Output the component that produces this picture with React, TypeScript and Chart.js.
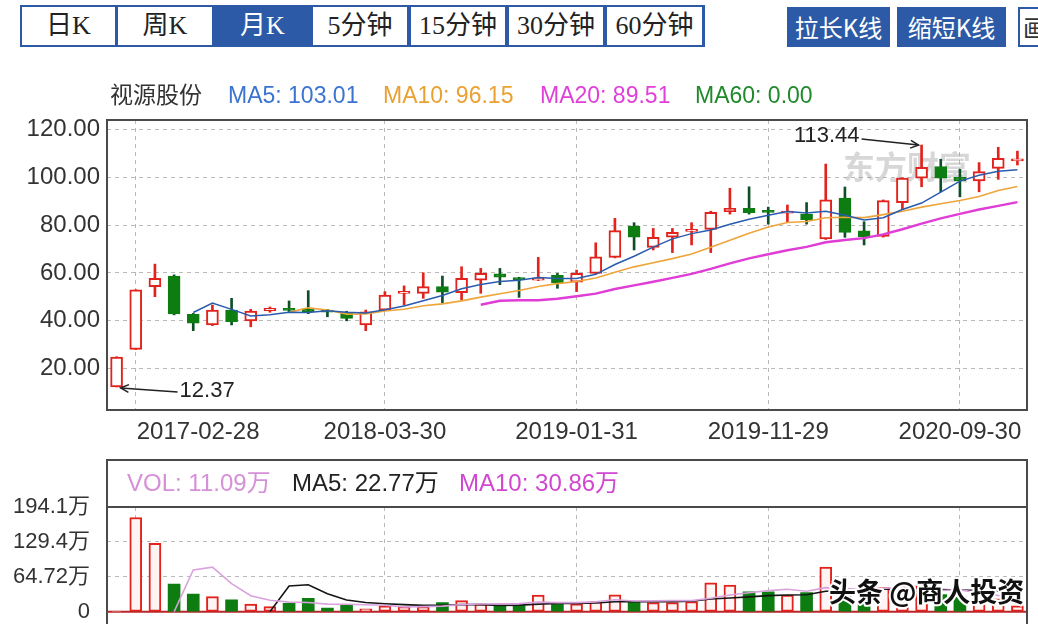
import React, { useEffect, useRef } from 'react';
import { Chart, registerables } from 'chart.js';

Chart.register(...registerables);

// ---------------- data ----------------
const categories = [
  '2017-01', '2017-02', '2017-03', '2017-04', '2017-05', '2017-06', '2017-07', '2017-08', '2017-09', '2017-10', '2017-11', '2017-12',
  '2018-01', '2018-02', '2018-03', '2018-04', '2018-05', '2018-06', '2018-07', '2018-08', '2018-09', '2018-10', '2018-11', '2018-12',
  '2019-01', '2019-02', '2019-03', '2019-04', '2019-05', '2019-06', '2019-07', '2019-08', '2019-09', '2019-10', '2019-11', '2019-12',
  '2020-01', '2020-02', '2020-03', '2020-04', '2020-05', '2020-06', '2020-07', '2020-08', '2020-09', '2020-10', '2020-11', '2020-12',
];

const tickLabels = ['2017-02-28', '2018-03-30', '2019-01-31', '2019-11-29', '2020-09-30'];

const opens = [
  12.37, 28.1, 54.3, 58.7, 42.7, 38.3, 44.5, 40.0, 44.1, 44.8, 45.0, 44.5,
  43.4, 38.3, 44.5, 51.5, 51.5, 54.3, 51.8, 57.0, 59.6, 57.8, 57.0, 59.0,
  56.1, 59.8, 66.5, 79.6, 70.7, 74.9, 77.4, 78.2, 85.6, 87.0, 85.7, 85.0,
  84.6, 74.2, 91.3, 77.6, 75.3, 89.4, 99.6, 104.4, 100.0, 98.5, 103.7, 106.8,
];
const highs = [
  25.0, 53.0, 63.7, 59.2, 43.1, 46.6, 49.4, 44.8, 45.8, 48.3, 52.6, 44.8,
  44.0, 44.5, 52.2, 54.6, 60.1, 58.7, 62.6, 61.9, 61.9, 58.2, 66.5, 59.8,
  61.2, 72.6, 82.8, 81.0, 78.6, 78.6, 81.0, 85.8, 95.4, 96.0, 87.5, 88.4,
  89.4, 105.5, 95.9, 81.4, 90.5, 99.8, 113.44, 107.5, 103.3, 106.1, 112.5, 110.9,
];
const lows = [
  12.37, 28.0, 50.1, 42.5, 35.9, 38.0, 38.3, 37.5, 43.6, 43.7, 43.0, 41.7,
  40.0, 35.9, 44.3, 46.6, 49.4, 47.5, 48.7, 51.5, 55.1, 49.8, 56.8, 53.6,
  52.2, 59.5, 66.3, 69.6, 69.6, 68.5, 71.7, 68.5, 84.6, 84.6, 80.4, 81.4,
  80.4, 74.0, 74.9, 71.7, 75.0, 86.6, 96.0, 93.9, 91.8, 93.9, 99.1, 105.1,
];
const closes = [
  24.9, 52.9, 57.8, 42.9, 39.0, 44.5, 39.7, 44.1, 45.2, 44.4, 43.8, 43.6,
  41.0, 43.8, 50.8, 52.0, 54.3, 52.0, 57.8, 59.8, 58.2, 57.2, 57.6, 55.8,
  59.8, 66.7, 77.7, 74.9, 74.9, 77.0, 77.7, 85.3, 87.0, 85.2, 85.3, 85.6,
  82.3, 90.6, 76.9, 75.2, 90.2, 99.6, 104.1, 99.6, 98.4, 102.3, 107.9, 107.2,
];
// volume, 万
const volumes = [
  1.2, 174.7, 127.0, 51.3, 33.0, 28.0, 22.0, 14.1, 9.7, 15.9, 25.0, 6.8,
  12.3, 5.5, 11.0, 9.7, 9.7, 17.0, 20.8, 14.7, 11.6, 11.6, 31.0, 15.9,
  14.7, 18.9, 31.2, 18.9, 17.1, 17.1, 18.9, 53.7, 49.5, 37.0, 37.0, 31.0,
  35.7, 83.0, 30.0, 22.0, 45.0, 50.0, 48.0, 32.0, 28.0, 19.0, 23.8, 11.09,
];

const priceTicks = [20, 40, 60, 80, 100, 120];
const volumeTicks = [0, 64.72, 129.4, 194.1];
const volumeTickLabels = ['0', '64.72万', '129.4万', '194.1万'];

const lowMark = { index: 0, value: 12.37, text: '12.37' };
const highMark = { index: 42, value: 113.44, text: '113.44' };

// ---------------- helpers ----------------
function movingAverage(values: number[], n: number, zeroLead = false): (number | null)[] {
  return values.map((_, i) => {
    if (i < n - 1) return zeroLead && i === n - 2 ? 0 : null;
    let s = 0;
    for (let k = i - n + 1; k <= i; k++) s += values[k];
    return s / n;
  });
}

const RED = '#e2231d';
const GREEN = '#0d7d12';
const GREEN_WICK = '#0e4f27';
const GRID = '#b9b9b9';
const FRAME = '#4a4a4a';
const FONT = "'Liberation Sans', Arial, 'Noto Sans CJK SC', sans-serif";

const tickIndices = tickLabels.map((t) => categories.indexOf(t.slice(0, 7)));
const up = closes.map((c, i) => c >= opens[i]);

function drawArrow(ctx: CanvasRenderingContext2D, fx: number, fy: number, tx: number, ty: number) {
  ctx.beginPath();
  ctx.moveTo(fx, fy);
  ctx.lineTo(tx, ty);
  ctx.stroke();
  const ang = Math.atan2(ty - fy, tx - fx);
  const len = 9;
  ctx.beginPath();
  ctx.moveTo(tx - len * Math.cos(ang - 0.45), ty - len * Math.sin(ang - 0.45));
  ctx.lineTo(tx, ty);
  ctx.lineTo(tx - len * Math.cos(ang + 0.45), ty - len * Math.sin(ang + 0.45));
  ctx.stroke();
}

const mainDecor = {
  id: 'mainDecor',
  beforeDatasetsDraw(chart: any) {
    const { ctx } = chart;
    ctx.save();
    ctx.fillStyle = 'rgba(150,150,150,0.38)';
    ctx.font = "bold 32px 'Noto Sans CJK SC', sans-serif";
    ctx.textAlign = 'left';
    ctx.textBaseline = 'middle';
    ctx.fillText('东方财富', 843, 107);
    ctx.restore();
  },
  afterDraw(chart: any) {
    const { ctx, chartArea: a, scales } = chart;
    const xs = scales.x;
    const ys = scales.y;
    ctx.save();
    ctx.strokeStyle = FRAME;
    ctx.lineWidth = 2;
    ctx.strokeRect(a.left, a.top, a.right - a.left, a.bottom - a.top);

    ctx.fillStyle = '#333';
    ctx.font = `24px ${FONT}`;
    ctx.textBaseline = 'middle';
    tickIndices.forEach((idx, k) => {
      const px = xs.getPixelForValue(idx);
      ctx.textAlign = k === 0 ? 'left' : 'center';
      ctx.fillText(tickLabels[k], k === 0 ? px + 1 : px, a.bottom + 22);
    });

    ctx.strokeStyle = '#222';
    ctx.fillStyle = '#222';
    ctx.lineWidth = 1.5;
    ctx.font = `22px ${FONT}`;
    // low mark
    let px = xs.getPixelForValue(lowMark.index);
    let py = ys.getPixelForValue(lowMark.value);
    ctx.textAlign = 'left';
    ctx.fillText(lowMark.text, px + 63, py + 4);
    drawArrow(ctx, px + 61, py + 5, px + 4, py + 1);
    // high mark
    px = xs.getPixelForValue(highMark.index);
    py = ys.getPixelForValue(highMark.value);
    ctx.textAlign = 'right';
    ctx.fillText(highMark.text, px - 62, py - 9);
    drawArrow(ctx, px - 60, py - 6, px - 3, py);
    ctx.restore();
  },
};

const volDecor = {
  id: 'volDecor',
  beforeDatasetsDraw(chart: any) {
    const { ctx, chartArea: a, scales } = chart;
    const y0 = scales.y.getPixelForValue(0);
    ctx.save();
    ctx.strokeStyle = '#b8262a';
    ctx.lineWidth = 2;
    ctx.beginPath();
    ctx.moveTo(a.left, y0);
    ctx.lineTo(a.right, y0);
    ctx.stroke();
    ctx.restore();
  },
  afterDraw(chart: any) {
    const { ctx, chartArea: a, height } = chart;
    ctx.save();
    ctx.strokeStyle = FRAME;
    ctx.lineWidth = 2;
    ctx.beginPath();
    ctx.moveTo(a.left, height + 5);
    ctx.lineTo(a.left, 1);
    ctx.lineTo(a.right, 1);
    ctx.lineTo(a.right, height + 5);
    ctx.moveTo(a.left, a.top);
    ctx.lineTo(a.right, a.top);
    ctx.stroke();

    ctx.font = "bold 27px 'Noto Sans CJK SC', sans-serif";
    ctx.textAlign = 'left';
    ctx.textBaseline = 'middle';
    ctx.lineWidth = 4;
    ctx.strokeStyle = '#ffffff';
    ctx.lineJoin = 'round';
    ctx.strokeText('头条 @商人投资', 829, 133);
    ctx.fillStyle = '#111';
    ctx.fillText('头条 @商人投资', 829, 133);
    ctx.restore();
  },
};

function MainChart() {
  const ref = useRef<HTMLCanvasElement | null>(null);
  useEffect(() => {
    if (!ref.current) return;
    const ma5 = movingAverage(closes, 5);
    const ma10 = movingAverage(closes, 10);
    const ma20 = movingAverage(closes, 20);
    const chart = new Chart(ref.current, {
      type: 'bar',
      data: {
        labels: categories,
        datasets: [
          { type: 'line', label: 'MA5', data: ma5, borderColor: '#2a5cae', borderWidth: 1.5, pointRadius: 0, order: 0 } as any,
          { type: 'line', label: 'MA10', data: ma10, borderColor: '#eea53a', borderWidth: 1.6, pointRadius: 0, order: 1 } as any,
          { type: 'line', label: 'MA20', data: ma20, borderColor: '#e03cd6', borderWidth: 2.4, pointRadius: 0, order: 2 } as any,
          {
            type: 'bar', label: 'body',
            data: categories.map((_, i) => [opens[i], closes[i]]),
            backgroundColor: up.map((u) => (u ? '#ffffff' : GREEN)),
            borderColor: up.map((u) => (u ? RED : GREEN)),
            borderWidth: 2, borderSkipped: false, barThickness: 12, grouped: false, minBarLength: 2, order: 3,
          } as any,
          {
            type: 'bar', label: 'wick',
            data: categories.map((_, i) => [lows[i], highs[i]]),
            backgroundColor: up.map((u) => (u ? RED : GREEN_WICK)),
            borderWidth: 0, barThickness: 2, grouped: false, order: 4,
          } as any,
        ],
      },
      options: {
        responsive: false,
        animation: false,
        devicePixelRatio: 1,
        events: [],
        layout: { padding: { top: 60, right: 11, left: 0, bottom: 0 } },
        plugins: { legend: { display: false }, tooltip: { enabled: false } },
        scales: {
          x: {
            type: 'category', offset: true,
            grid: { offset: false, color: GRID, lineWidth: 1, drawTicks: false },
            border: { display: false, dash: [4, 4] },
            ticks: { display: false },
            afterBuildTicks: (s: any) => { s.ticks = tickIndices.map((v) => ({ value: v })); },
            afterFit: (s: any) => { s.height = 40; },
          },
          y: {
            type: 'linear', min: 2.75, max: 123.9,
            grid: { color: GRID, lineWidth: 1, drawTicks: false },
            border: { display: false, dash: [4, 4] },
            ticks: { color: '#333', padding: 7, font: { size: 24, family: FONT }, callback: (v: any) => Number(v).toFixed(2) },
            afterBuildTicks: (s: any) => { s.ticks = priceTicks.map((v) => ({ value: v })); },
            afterFit: (s: any) => { s.width = 107; },
          },
        },
      } as any,
      plugins: [mainDecor],
    });
    return () => chart.destroy();
  }, []);
  return <canvas ref={ref} width={1038} height={390} style={{ display: 'block' }} />;
}

function VolumeChart() {
  const ref = useRef<HTMLCanvasElement | null>(null);
  useEffect(() => {
    if (!ref.current) return;
    const vma5 = movingAverage(volumes, 5, true);
    const vma10 = movingAverage(volumes, 10, true);
    const chart = new Chart(ref.current, {
      type: 'bar',
      data: {
        labels: categories,
        datasets: [
          { type: 'line', label: 'MA5', data: vma5, borderColor: '#d9a2dc', borderWidth: 1.6, pointRadius: 0, order: 0 } as any,
          { type: 'line', label: 'MA10', data: vma10, borderColor: '#151515', borderWidth: 1.6, pointRadius: 0, order: 1 } as any,
          {
            type: 'bar', label: 'VOL', data: volumes,
            backgroundColor: up.map((u) => (u ? '#fff4f4' : GREEN)),
            borderColor: up.map((u) => (u ? RED : GREEN)),
            borderWidth: up.map((u) => (u ? 2 : 0)),
            borderSkipped: false, barThickness: 12, grouped: false, order: 2,
          } as any,
        ],
      },
      options: {
        responsive: false,
        animation: false,
        devicePixelRatio: 1,
        events: [],
        layout: { padding: { top: 48, right: 11, left: 0, bottom: 0 } },
        plugins: { legend: { display: false }, tooltip: { enabled: false } },
        scales: {
          x: {
            type: 'category', offset: true,
            grid: { offset: false, color: GRID, lineWidth: 1, drawTicks: false },
            border: { display: false, dash: [4, 4] },
            ticks: { display: false },
            afterBuildTicks: (s: any) => { s.ticks = tickIndices.map((v) => ({ value: v })); },
            afterFit: (s: any) => { s.height = 0; },
          },
          y: {
            type: 'linear', min: 0, max: 194.1,
            grid: {
              color: (c: any) => (c.tick && (c.tick.value === 64.72 || c.tick.value === 129.4) ? GRID : 'rgba(0,0,0,0)'),
              lineWidth: 1, drawTicks: false,
            },
            border: { display: false, dash: [4, 4] },
            ticks: {
              color: '#333', padding: 17, font: { size: 22, family: FONT },
              callback: (v: any) => { const k = volumeTicks.indexOf(Number(v)); return k >= 0 ? volumeTickLabels[k] : ''; },
            },
            afterBuildTicks: (s: any) => { s.ticks = volumeTicks.map((v) => ({ value: v })); },
            afterFit: (s: any) => { s.width = 107; },
          },
        },
      } as any,
      plugins: [volDecor],
    });
    return () => chart.destroy();
  }, []);
  return <canvas ref={ref} width={1038} height={183} style={{ display: 'block' }} />;
}

const periodButtons = ['日K', '周K', '月K', '5分钟', '15分钟', '30分钟', '60分钟'];
const periodEdges = [20, 117, 215, 312, 410, 508, 606, 705];

function Toolbar() {
  const blue = '#2c5aa6';
  return (
    <>
      <div style={{ position: 'absolute', left: 20, top: 5, width: 685, height: 42, border: `2px solid ${blue}`, boxSizing: 'border-box' }} />
      {periodButtons.map((t, i) => {
        const sel = i === 2;
        return (
          <div key={t} style={{
            position: 'absolute', left: periodEdges[i], top: 5, width: periodEdges[i + 1] - periodEdges[i], height: 42,
            boxSizing: 'border-box', border: `2px solid ${blue}`, marginLeft: i === 0 ? 0 : -1,
            background: sel ? blue : '#fff', color: sel ? '#fff' : '#222',
            font: "26px 'Liberation Serif', 'Noto Sans CJK SC', serif", lineHeight: '38px', textAlign: 'center',
          }}>{t}</div>
        );
      })}
      <div style={{ position: 'absolute', left: 787, top: 7, width: 103, height: 40, background: blue, color: '#fff', font: "24px 'Noto Sans CJK SC', sans-serif", lineHeight: '40px', textAlign: 'center' }}>拉长K线</div>
      <div style={{ position: 'absolute', left: 897, top: 7, width: 109, height: 40, background: blue, color: '#fff', font: "24px 'Noto Sans CJK SC', sans-serif", lineHeight: '40px', textAlign: 'center' }}>缩短K线</div>
      <div style={{ position: 'absolute', left: 1018, top: 7, width: 90, height: 40, boxSizing: 'border-box', border: `2px solid ${blue}`, background: '#fff', color: '#333', font: "24px 'Noto Sans CJK SC', sans-serif", lineHeight: '36px', paddingLeft: 3, whiteSpace: 'nowrap' }}>画线工具</div>
    </>
  );
}

function Label({ x, y, color, text, size = 23 }: { x: number; y: number; color: string; text: string; size?: number }) {
  return (
    <div style={{ position: 'absolute', left: x, top: y - 15, height: 30, lineHeight: '30px', color, fontSize: size, whiteSpace: 'nowrap', fontFamily: FONT }}>{text}</div>
  );
}

export default function App() {
  return (
    <div style={{ position: 'fixed', left: 0, top: 0, width: 1038, height: 624, background: '#fff', overflow: 'hidden', fontFamily: FONT }}>
      <Toolbar />
      <div style={{ position: 'absolute', left: 0, top: 60, width: 1038, height: 390 }}>
        <MainChart />
      </div>
      <Label x={110} y={95} color="#333" text="视源股份" />
      <Label x={228} y={95} color="#3b74d0" text="MA5: 103.01" />
      <Label x={383} y={95} color="#eba032" text="MA10: 96.15" />
      <Label x={540} y={95} color="#e040d8" text="MA20: 89.51" />
      <Label x={695} y={95} color="#1f8a2c" text="MA60: 0.00" />
      <div style={{ position: 'absolute', left: 0, top: 459, width: 1038, height: 183 }}>
        <VolumeChart />
      </div>
      <Label x={127} y={483} color="#d690d8" text="VOL: 11.09万" size={24} />
      <Label x={292} y={483} color="#222" text="MA5: 22.77万" size={24} />
      <Label x={459} y={483} color="#d047d0" text="MA10: 30.86万" size={24} />
    </div>
  );
}
